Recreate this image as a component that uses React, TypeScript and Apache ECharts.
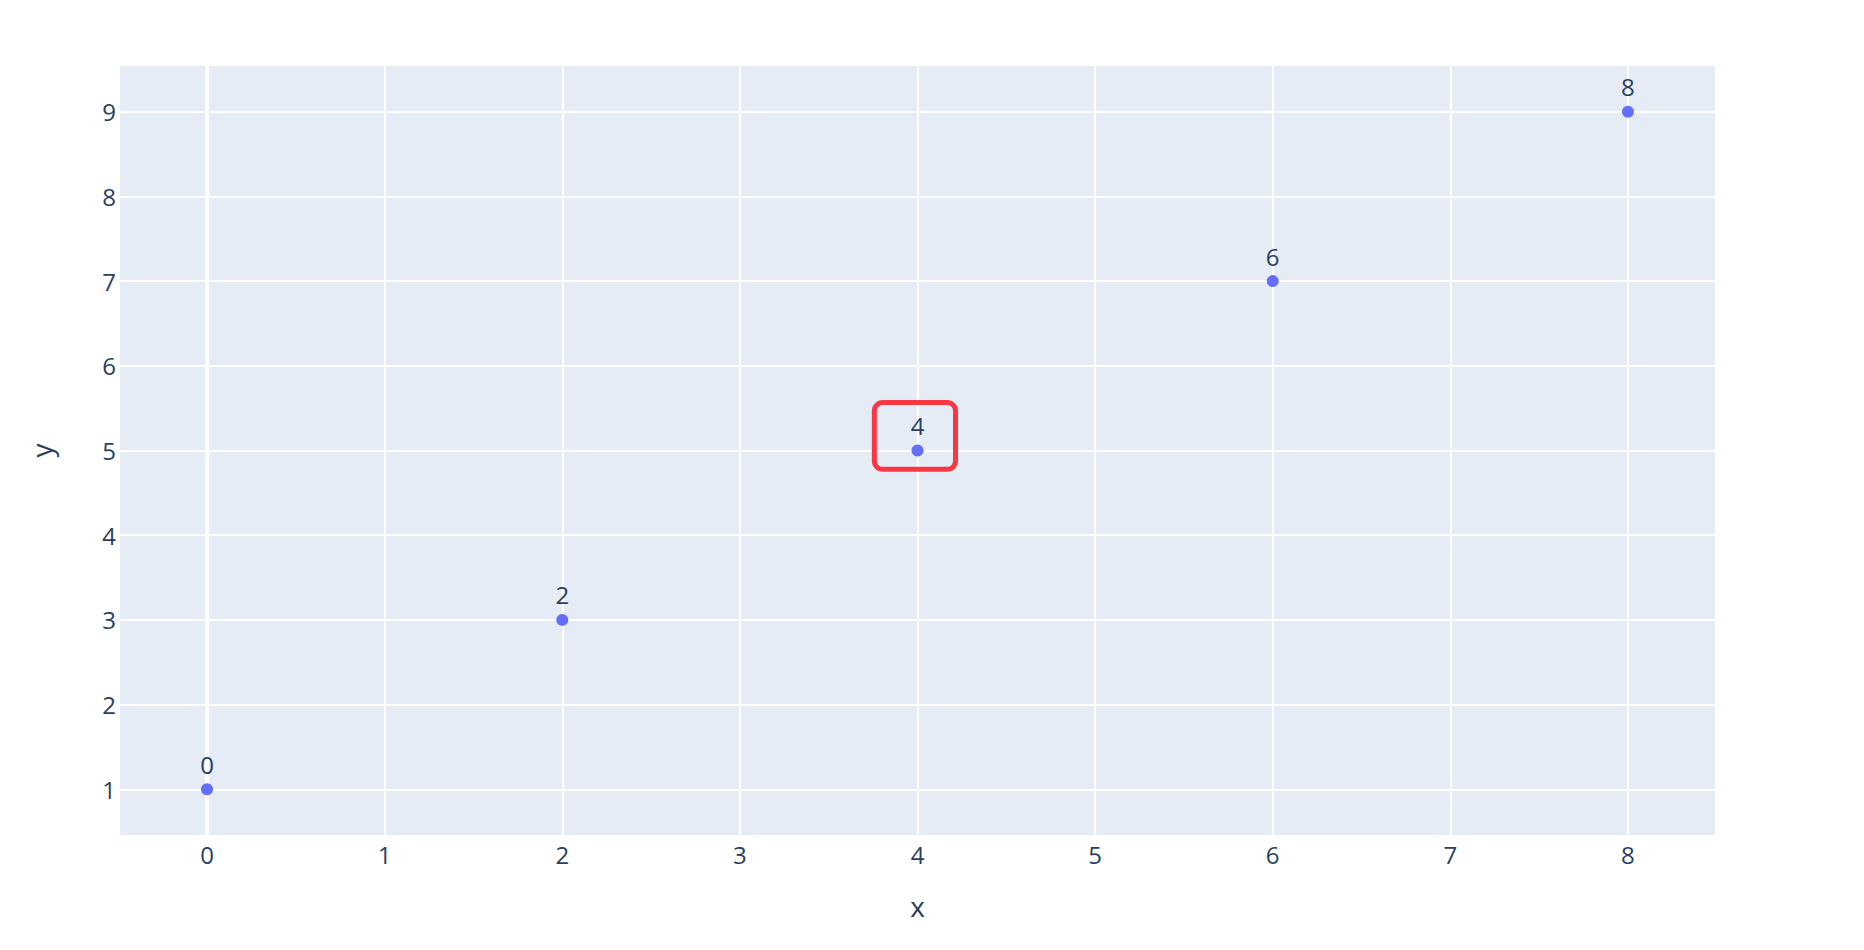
import React, { useEffect, useRef } from "react";
import * as echarts from "echarts";

const xValues = [0, 2, 4, 6, 8];
const yValues = [1, 3, 5, 7, 9];
const pointLabels = ["0", "2", "4", "6", "8"];
const xTicks = [0, 1, 2, 3, 4, 5, 6, 7, 8];
const yTicks = [1, 2, 3, 4, 5, 6, 7, 8, 9];
const xRange = [-0.49, 8.49];
const yRange = [0.46, 9.54];
const highlightBox = { x0: 3.757, x1: 4.214, y0: 4.778, y1: 5.566 };

const FONT = '"Open Sans", verdana, arial, sans-serif';
const TEXT = "#2a3f5f";

export default function App() {
  const ref = useRef<HTMLDivElement>(null);
  useEffect(() => {
    if (!ref.current) return;
    const chart = echarts.init(ref.current, undefined, { renderer: "svg" });
    const data = xValues.map((x, i) => [x, yValues[i]]);
    chart.setOption({
      animation: false,
      backgroundColor: "#ffffff",
      grid: { left: 120, right: 149, top: 66, bottom: 115, show: true, backgroundColor: "#E5ECF6", borderWidth: 0 },
      xAxis: {
        type: "value",
        min: xRange[0],
        max: xRange[1],
        name: "x",
        nameLocation: "middle",
        nameGap: 57,
        nameTextStyle: { fontFamily: FONT, fontSize: 28, color: TEXT },
        axisLine: { show: false },
        axisTick: { show: false, customValues: xTicks },
        axisLabel: { customValues: xTicks, fontFamily: FONT, fontSize: 24, color: TEXT, margin: 7 },
        splitLine: { show: true, lineStyle: { color: "#ffffff", width: 2 } },
      },
      yAxis: {
        type: "value",
        min: yRange[0],
        max: yRange[1],
        name: "y",
        nameLocation: "middle",
        nameGap: 65,
        nameTextStyle: { fontFamily: FONT, fontSize: 28, color: TEXT },
        axisLine: { show: false },
        axisTick: { show: false, customValues: yTicks },
        axisLabel: { customValues: yTicks, fontFamily: FONT, fontSize: 24, color: TEXT, margin: 4 },
        splitLine: { show: true, lineStyle: { color: "#ffffff", width: 2 } },
      },
      series: [
        {
          type: "scatter",
          data: [],
          z: 1,
          silent: true,
          markLine: {
            silent: true,
            z: 1,
            symbol: "none",
            label: { show: false },
            lineStyle: { color: "#ffffff", width: 4, type: "solid" },
            data: [{ xAxis: 0 }],
          },
        },
        {
          type: "scatter",
          z: 3,
          data,
          symbolSize: 12,
          itemStyle: { color: "#636efa", opacity: 1 },
          label: {
            show: true,
            position: "top",
            distance: 7,
            fontFamily: FONT,
            fontSize: 24,
            color: TEXT,
            formatter: (p: any) => pointLabels[p.dataIndex],
          },
        },
      ],
    });
    const p0 = chart.convertToPixel({ gridIndex: 0 }, [highlightBox.x0, highlightBox.y1]) as number[];
    const p1 = chart.convertToPixel({ gridIndex: 0 }, [highlightBox.x1, highlightBox.y0]) as number[];
    chart.setOption({
      graphic: [
        {
          type: "rect",
          z: 100,
          shape: { x: p0[0], y: p0[1], width: p1[0] - p0[0], height: p1[1] - p0[1], r: 8 },
          style: { fill: "none", stroke: "#f93642", lineWidth: 5 },
        },
      ],
    });
    return () => chart.dispose();
  }, []);
  return <div ref={ref} style={{ position: "fixed", left: 0, top: 0, width: 1864, height: 950 }} />;
}
